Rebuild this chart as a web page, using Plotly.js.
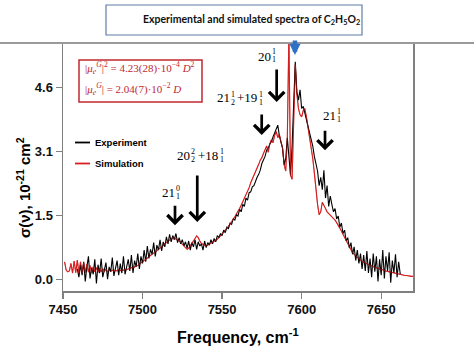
<!DOCTYPE html>
<html><head><meta charset="utf-8">
<script src="https://cdn.plot.ly/plotly-3.0.1.min.js"></script>
<style>html,body{margin:0;padding:0;background:#fff;}#chart{width:474px;height:355px;}</style>
</head><body><div id="chart"></div>
<script>
// ---- data (cm^-1 grid, 1 cm^-1 step) ----
const expStart = 7459;
const simStart = 7451;
const freqStep = 1;
const experiment = [
 0.25,0.05,0.35,0.10,0.42,-0.05,0.30,0.55,0.02,0.28,
 0.12,0.48,-0.10,0.35,0.15,0.50,0.05,0.22,0.40,0.00,
 0.30,0.18,0.52,0.08,0.25,0.45,0.10,0.38,0.15,0.55,
 0.12,0.32,0.48,0.20,0.58,0.15,0.45,0.30,0.62,0.25,
 0.55,0.38,0.70,0.42,0.80,0.50,0.72,0.60,0.88,0.55,
 0.82,0.70,0.95,0.68,0.90,0.78,1.02,0.85,1.08,0.90,
 1.05,0.95,1.10,0.88,1.00,0.85,0.95,0.80,0.90,0.75,
 0.92,0.70,0.88,0.78,0.95,0.72,0.90,0.80,0.85,0.70,
 0.92,0.76,0.88,0.82,0.95,0.85,0.98,0.90,1.05,1.00,
 1.10,1.05,1.18,1.12,1.25,1.22,1.35,1.32,1.45,1.42,
 1.55,1.52,1.68,1.62,1.80,1.75,1.95,1.90,2.08,2.10,
 2.22,2.25,2.38,2.45,2.52,2.62,2.78,2.85,2.95,3.10,
 3.15,3.25,3.30,3.42,3.50,3.62,3.70,3.45,3.30,3.15,
 2.75,2.90,3.40,3.00,2.50,3.20,4.40,5.22,4.50,4.30,
 4.55,4.10,4.15,4.00,3.85,3.70,3.55,3.35,3.20,2.95,
 2.75,2.60,2.25,2.45,2.15,2.62,1.95,2.25,1.75,2.00,
 1.80,1.62,1.70,1.45,1.52,1.25,1.35,1.10,1.18,0.92,
 1.00,0.75,0.88,0.60,0.78,0.45,0.70,0.38,0.62,0.25,
 0.58,0.20,0.68,0.15,0.50,0.05,0.62,0.18,0.55,-0.05,
 0.48,0.10,0.70,0.02,0.55,0.20,0.65,-0.08,0.45,0.15,
 0.60,0.05,0.42,0.12
];
const simulation = [
 0.42,0.22,0.18,0.20,0.38,0.15,0.44,0.16,0.46,0.14,
 0.42,0.15,0.40,0.16,0.36,0.17,0.33,0.16,0.30,0.18,
 0.28,0.17,0.26,0.18,0.25,0.19,0.24,0.18,0.22,0.19,
 0.22,0.19,0.21,0.20,0.23,0.21,0.22,0.22,0.24,0.23,
 0.25,0.26,0.28,0.27,0.30,0.32,0.33,0.36,0.38,0.40,
 0.44,0.47,0.50,0.53,0.57,0.59,0.63,0.65,0.69,0.71,
 0.74,0.77,0.81,0.85,0.88,0.92,0.95,0.98,1.00,0.99,
 0.97,0.95,0.92,0.88,0.84,0.80,0.76,0.72,0.75,0.80,
 0.86,0.92,0.98,1.04,1.00,0.92,0.86,0.84,0.82,0.80,
 0.82,0.84,0.86,0.88,0.90,0.92,0.96,1.00,1.04,1.08,
 1.12,1.17,1.22,1.27,1.32,1.38,1.44,1.50,1.56,1.62,
 1.70,1.78,1.86,1.94,2.02,2.12,2.20,2.32,2.40,2.52,
 2.58,2.68,2.76,2.86,2.92,3.02,3.10,3.20,3.05,3.25,
 3.35,3.28,3.45,3.55,3.40,3.48,3.30,3.15,2.75,2.60,
 3.40,5.90,2.50,2.40,3.80,5.15,4.45,4.10,3.95,3.90,
 4.05,4.10,3.90,3.65,3.40,3.20,2.90,2.55,2.15,1.80,
 1.55,1.62,1.85,1.75,1.70,1.62,1.58,1.55,1.52,1.48,
 1.42,1.36,1.30,1.24,1.16,1.08,1.00,0.92,0.84,0.76,
 0.70,0.64,0.60,0.56,0.52,0.49,0.46,0.43,0.41,0.39,
 0.37,0.35,0.34,0.32,0.30,0.29,0.27,0.26,0.25,0.24,
 0.22,0.21,0.20,0.19,0.18,0.17,0.16,0.15,0.14,0.13,
 0.12,0.11,0.11,0.10,0.09,0.09,0.08,0.08,0.07,0.07
];
const seriesNames = ['Experiment', 'Simulation'];
const xTickVals = [7450, 7500, 7550, 7600, 7650];
const yTickVals = [0, 1.5333, 3.0667, 4.6];
const yTickText = ['0.0', '1.5', '3.1', '4.6'];

// ---- layout helpers (pixel -> paper) ----
const W = 474, H = 355, L = 63, R = 61, T = 44, B = 64;
const PW = W - L - R, PH = H - T - B;
const px = x => (x - L) / PW;
const py = y => (H - B - y) / PH;
const SANS = 'Liberation Sans, Arial, sans-serif';
const SERIF = 'Liberation Serif, Times New Roman, serif';
const RED = '#c0282e';

function txt(text, x, y, o) {
  return Object.assign({xref:'paper', yref:'paper', x:px(x), y:py(y), text:text, showarrow:false,
    xanchor:'left', yanchor:'middle', borderpad:0, borderwidth:0,
    font:{family:SERIF, size:13, color:'#000'}}, o || {});
}
function stack(sup, sub, x, yc) {
  return [txt(sup, x, yc - 4, {font:{family:SERIF, size:8, color:'#000'}}),
          txt(sub, x, yc + 4, {font:{family:SERIF, size:8, color:'#000'}})];
}
function arrow(fx, fy, ay) {
  return {xref:'x', yref:'y', x:fx, y:fy, ax:0, ay:ay, text:'', showarrow:true,
    arrowhead:4, arrowsize:1.1, arrowwidth:2.7, arrowcolor:'#000', standoff:0};
}

const traces = [
  {type:'scatter', mode:'lines', name:seriesNames[1], x0:simStart, dx:freqStep, y:simulation,
   line:{color:'#d62020', width:1.1}, showlegend:false},
  {type:'scatter', mode:'lines', name:seriesNames[0], x0:expStart, dx:freqStep, y:experiment,
   line:{color:'#000', width:1.1}, showlegend:false},
  {type:'scatter', mode:'lines', name:seriesNames[1], x0:simStart, dx:freqStep, y:simulation,
   line:{color:'#d62020', width:1}, opacity:0.55, showlegend:false, hoverinfo:'skip'}
];

const tickFont = {family:SANS, size:13, color:'#111', weight:'bold'};
const annotations = [
  // title
  txt('Experimental and simulated spectra of C<sub>2</sub>H<sub>5</sub>O<sub>2</sub>', 251, 20,
      {xanchor:'center', font:{family:'Lato, Liberation Sans, sans-serif', size:10.5, color:'#111', weight:'bold'}}),
  // axis titles
  txt('Frequency, cm<sup>-1</sup>', 238, 336, {xanchor:'center', font:{family:SANS, size:16, color:'#000', weight:'bold'}}),
  txt('σ(ν), 10<sup>-21</sup> cm<sup>2</sup>', 23, 188, {xanchor:'center', textangle:-90, font:{family:SANS, size:15, color:'#000', weight:'bold'}}),
  // mu box
  txt('|<i>μ</i><sub><i>e</i></sub><sup><i>G</i></sup>|<sup>2</sup> = 4.23(28)·10<sup>−4</sup> <i>D</i><sup>2</sup>', 85, 68,
      {font:{family:SERIF, size:11, color:RED}}),
  txt('|<i>μ</i><sub><i>e</i></sub><sup><i>G</i></sup>| = 2.04(7)·10<sup>−2</sup> <i>D</i>', 85, 89,
      {font:{family:SERIF, size:11, color:RED}}),
  // legend
  txt(seriesNames[0], 95, 142.5, {font:{family:SANS, size:9.5, color:'#000', weight:'bold'}}),
  txt(seriesNames[1], 95, 163.5, {font:{family:SANS, size:9.5, color:'#000', weight:'bold'}}),
  // band labels
  txt('21', 161.5, 192), ...stack('0', '1', 176, 192),
  txt('20', 176.5, 155), ...stack('2', '2', 191, 155), txt('+18', 198, 155), ...stack('1', '1', 219.5, 155),
  txt('21', 216.5, 98), ...stack('1', '2', 230.5, 98), txt('+19', 237, 98), ...stack('1', '1', 258.5, 98),
  txt('20', 258, 56), ...stack('1', '1', 272, 56),
  txt('21', 323, 115), ...stack('1', '1', 337, 115),
  // arrows
  arrow(7520.4, 1.30, -21),
  arrow(7534.4, 1.376, -48),
  arrow(7574.9, 3.465, -22),
  arrow(7584.3, 4.257, -34),
  arrow(7614.7, 3.10, -21),
  {xref:'x', yref:'y', x:7595.8, y:5.385, ax:0, ay:-16, text:'', showarrow:true,
   arrowhead:2, arrowsize:0.5, arrowwidth:4.5, arrowcolor:'#2f72c4', standoff:0}
];

const shapes = [
  {type:'line', xref:'paper', yref:'paper', x0:px(0), x1:px(474), y0:py(43), y1:py(43), line:{color:'#9a9a9a', width:2}},
  {type:'rect', xref:'paper', yref:'paper', x0:px(106), x1:px(362), y0:py(5), y1:py(35), line:{color:'#5f7fa6', width:1.2}, fillcolor:'rgba(0,0,0,0)'},
  {type:'rect', xref:'paper', yref:'paper', x0:px(79), x1:px(202), y0:py(60), y1:py(102), line:{color:RED, width:1.5}, fillcolor:'rgba(0,0,0,0)'},
  {type:'line', xref:'paper', yref:'paper', x0:px(75), x1:px(90), y0:py(142.5), y1:py(142.5), line:{color:'#000', width:1.8}},
  {type:'line', xref:'paper', yref:'paper', x0:px(75), x1:px(90), y0:py(163.5), y1:py(163.5), line:{color:'#d62020', width:1.8}}
];

const layout = {
  width:W, height:H, margin:{l:L, r:R, t:T, b:B}, paper_bgcolor:'#fff', plot_bgcolor:'#fff',
  showlegend:false,
  xaxis:{range:[7450, 7670], tickvals:xTickVals, ticks:'outside', ticklen:6, tickwidth:1.2, tickcolor:'#808080',
    showline:true, linecolor:'#808080', linewidth:1.5, mirror:true, showgrid:false, zeroline:false, tickfont:tickFont},
  yaxis:{range:[-0.281, 5.649], tickvals:yTickVals, ticktext:yTickText, ticks:'outside', ticklen:6, tickwidth:1.2, tickcolor:'#808080',
    showline:true, linecolor:'#808080', linewidth:1.5, mirror:true, showgrid:false, zeroline:false, tickfont:tickFont},
  annotations:annotations, shapes:shapes
};
Plotly.newPlot('chart', traces, layout, {displayModeBar:false, staticPlot:true});
</script></body></html>
